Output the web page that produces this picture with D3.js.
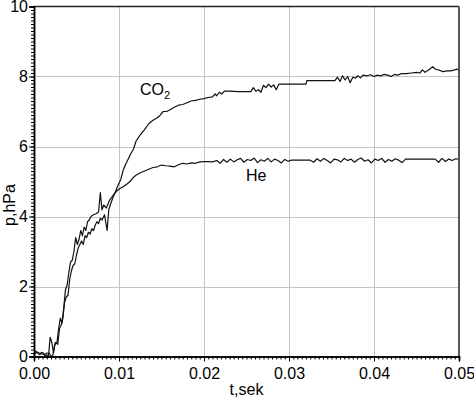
<!DOCTYPE html>
<html><head><meta charset="utf-8">
<script src="https://cdn.jsdelivr.net/npm/d3@7/dist/d3.min.js"></script>
<style>
html,body{margin:0;padding:0;background:#fff;}
svg{display:block;font-family:"Liberation Sans",Arial,sans-serif;}
</style></head>
<body>
<svg id="chart" width="474" height="398"></svg>
<script>
// ---- data ----
const xTicks = [0.00, 0.01, 0.02, 0.03, 0.04, 0.05];
const xTickLabels = ["0.00", "0.01", "0.02", "0.03", "0.04", "0.05"];
const yTicks = [0, 2, 4, 6, 8, 10];
const yTickLabels = ["0", "2", "4", "6", "8", "10"];
const seriesNames = ["CO2", "He"];

const co2T = [0.0000,0.0003,0.0006,0.0009,0.0012,0.0015,0.0018,0.0020,0.0022,0.0024,0.0026,0.0028,0.0030,0.0032,0.0034,0.0036,0.0038,0.0040,0.0042,0.0044,0.0046,0.0048,0.0050,0.0052,0.0054,0.0056,0.0058,0.0060,0.0062,0.0064,0.0066,0.0068,0.0070,0.0072,0.0074,0.0076,0.0078,0.0080,0.0083,0.0086,0.0088,0.0090,0.0093,0.0096,0.0099,0.0102,0.0105,0.0108,0.0111,0.0114,0.0117,0.0120,0.0125,0.0130,0.0135,0.0140,0.0145,0.0148,0.0152,0.0156,0.0160,0.0165,0.0170,0.0175,0.0180,0.0185,0.0190,0.0195,0.0200,0.0205,0.0210,0.0213,0.0215,0.0218,0.0221,0.0224,0.0230,0.0240,0.0255,0.0258,0.0261,0.0264,0.0267,0.0270,0.0273,0.0276,0.0279,0.0282,0.0285,0.0288,0.0300,0.0320,0.0321,0.0354,0.0357,0.0360,0.0363,0.0366,0.0369,0.0372,0.0375,0.0378,0.0381,0.0384,0.0387,0.0392,0.0396,0.0400,0.0404,0.0408,0.0412,0.0416,0.0420,0.0424,0.0428,0.0432,0.0438,0.0444,0.0450,0.0454,0.0457,0.0460,0.0465,0.0469,0.0473,0.0477,0.0481,0.0486,0.0490,0.0494,0.0497,0.0500];
const co2P = [0.05,0.12,0.10,0.08,0.05,0.10,0.10,0.00,0.02,0.30,0.40,0.35,0.80,0.90,1.10,1.55,1.70,1.75,2.20,2.45,2.60,2.65,2.90,3.10,3.20,3.30,3.20,3.45,3.40,3.55,3.50,3.65,3.60,3.75,3.85,3.80,3.95,3.90,4.05,3.60,4.20,4.35,4.55,4.72,4.90,5.05,5.33,5.50,5.65,5.80,5.92,6.15,6.33,6.48,6.65,6.75,6.82,6.88,7.00,7.00,7.05,7.12,7.18,7.20,7.25,7.30,7.32,7.35,7.37,7.40,7.42,7.50,7.45,7.55,7.50,7.58,7.58,7.57,7.57,7.68,7.58,7.62,7.55,7.75,7.68,7.78,7.70,7.76,7.62,7.78,7.78,7.78,7.88,7.88,7.98,7.86,8.02,7.90,8.00,7.82,7.98,7.95,8.02,7.96,8.04,8.02,8.05,8.00,8.04,8.02,8.06,8.04,8.00,8.06,8.04,8.08,8.08,8.10,8.12,8.10,8.19,8.12,8.20,8.28,8.20,8.18,8.14,8.16,8.16,8.18,8.21,8.18];

const heT = [0.0000,0.0003,0.0005,0.0007,0.0009,0.0011,0.0013,0.0015,0.0017,0.0019,0.0021,0.0023,0.0025,0.0027,0.0029,0.0031,0.0033,0.0035,0.0037,0.0039,0.0041,0.0043,0.0045,0.0047,0.0049,0.0051,0.0053,0.0055,0.0057,0.0059,0.0061,0.0063,0.0065,0.0067,0.0070,0.0073,0.0076,0.0078,0.0080,0.0082,0.0085,0.0089,0.0093,0.0097,0.0101,0.0105,0.0109,0.0113,0.0117,0.0120,0.0125,0.0130,0.0135,0.0140,0.0145,0.0150,0.0155,0.0160,0.0165,0.0170,0.0175,0.0180,0.0185,0.0190,0.0195,0.0200,0.0205,0.0210,0.0215,0.0219,0.0223,0.0227,0.0231,0.0235,0.0239,0.0243,0.0247,0.0251,0.0255,0.0259,0.0263,0.0267,0.0271,0.0275,0.0279,0.0283,0.0287,0.0291,0.0295,0.0299,0.0303,0.0325,0.0329,0.0333,0.0337,0.0341,0.0345,0.0349,0.0353,0.0357,0.0361,0.0365,0.0369,0.0373,0.0377,0.0381,0.0385,0.0389,0.0393,0.0397,0.0401,0.0405,0.0409,0.0413,0.0417,0.0421,0.0425,0.0429,0.0433,0.0437,0.0440,0.0472,0.0476,0.0480,0.0484,0.0488,0.0492,0.0496,0.0500];
const heP = [0.15,0.15,0.08,0.05,0.12,0.10,0.02,0.05,0.00,0.55,0.40,0.10,0.40,0.40,0.80,1.10,0.95,1.40,1.90,2.05,2.40,2.70,2.75,3.00,3.40,3.20,3.35,3.60,3.45,3.70,3.60,3.85,3.90,4.00,4.05,4.08,4.13,4.68,4.19,4.33,4.24,4.47,4.60,4.72,4.80,4.85,4.92,5.00,5.12,5.18,5.25,5.30,5.35,5.40,5.42,5.47,5.45,5.44,5.42,5.48,5.52,5.50,5.53,5.52,5.56,5.57,5.57,5.56,5.60,5.52,5.63,5.55,5.64,5.56,5.62,5.66,5.55,5.63,5.60,5.67,5.54,5.62,5.58,5.66,5.56,5.64,5.60,5.53,5.63,5.58,5.61,5.61,5.55,5.65,5.58,5.66,5.60,5.53,5.64,5.62,5.56,5.66,5.60,5.64,5.55,5.63,5.67,5.58,5.62,5.53,5.64,5.60,5.66,5.55,5.63,5.58,5.65,5.61,5.54,5.64,5.64,5.64,5.55,5.66,5.57,5.64,5.60,5.65,5.63];

// ---- layout ----
const svg = d3.select("#chart");
const L = 34, R = 459, T = 6.5, B = 356.5;
const x = d3.scaleLinear().domain([0, 0.05]).range([L, R]);
const y = d3.scaleLinear().domain([0, 10]).range([B, T]);

// grid
const grid = svg.append("g").attr("stroke", "#c4c4c4").attr("stroke-width", 1);
grid.selectAll("line.vx").data(xTicks.slice(1, -1)).join("line")
  .attr("x1", d => Math.round(x(d)) + 0.5).attr("x2", d => Math.round(x(d)) + 0.5)
  .attr("y1", T).attr("y2", B);
grid.selectAll("line.hy").data(yTicks.slice(1, -1)).join("line")
  .attr("y1", d => Math.round(y(d)) + 0.5).attr("y2", d => Math.round(y(d)) + 0.5)
  .attr("x1", L).attr("x2", R);

// curves
const line = d3.line().x(d => x(d[0])).y(d => y(d[1]));
const co2 = co2T.map((t, i) => [t, co2P[i]]);
const he = heT.map((t, i) => [t, heP[i]]);
svg.append("g").selectAll("path").data([co2, he]).join("path")
  .attr("d", line).attr("fill", "none").attr("stroke", "#111")
  .attr("stroke-width", 1.2).attr("stroke-linejoin", "round");

// borders
svg.append("line").attr("x1", L).attr("x2", R).attr("y1", T).attr("y2", T)
  .attr("stroke", "#222").attr("stroke-width", 1.5);
svg.append("line").attr("x1", R).attr("x2", R).attr("y1", T).attr("y2", B)
  .attr("stroke", "#555").attr("stroke-width", 2);

// axes
const xMinor = d3.range(0, 101).map(i => i * 0.0005);
const yMinor = d3.range(0, 101).map(i => i * 0.1);
const xAxis = d3.axisBottom(x).tickValues(xTicks).tickFormat((d, i) => xTickLabels[i]).tickSize(5).tickPadding(6);
const xAxisMinor = d3.axisBottom(x).tickValues(xMinor).tickFormat("").tickSize(3);
const yAxis = d3.axisLeft(y).tickValues(yTicks).tickFormat((d, i) => yTickLabels[i]).tickSize(5).tickPadding(1);
const yAxisMinor = d3.axisLeft(y).tickValues(yMinor).tickFormat("").tickSize(3);

function style(g) {
  g.select(".domain").attr("stroke", "#000").attr("stroke-width", 1.5);
  g.selectAll(".tick line").attr("stroke", "#000").attr("stroke-width", 1);
  g.selectAll(".tick text").attr("fill", "#000").style("font-size", "16px")
    .style("font-family", '"Liberation Sans", Arial, sans-serif');
}
svg.append("g").attr("transform", `translate(0,${B})`).call(xAxisMinor).call(style);
svg.append("g").attr("transform", `translate(0,${B})`).call(xAxis).call(style);
svg.append("g").attr("transform", `translate(${L},0)`).call(yAxisMinor).call(style);
svg.append("g").attr("transform", `translate(${L},0)`).call(yAxis).call(style);

// axis titles
svg.append("text").attr("x", (L + R) / 2).attr("y", 395).attr("text-anchor", "middle")
  .style("font-size", "16px").text("t,sek");
svg.append("text").attr("transform", "translate(15,205) rotate(-90)").attr("text-anchor", "middle")
  .style("font-size", "16px").text("p,hPa");

// series labels
const co2Label = svg.append("text").attr("x", 140).attr("y", 95).style("font-size", "16px");
co2Label.append("tspan").text("CO");
co2Label.append("tspan").attr("dy", 4).style("font-size", "11px").text("2");
svg.append("text").attr("x", 246).attr("y", 181).style("font-size", "16px").text(seriesNames[1]);
</script>
</body></html>
